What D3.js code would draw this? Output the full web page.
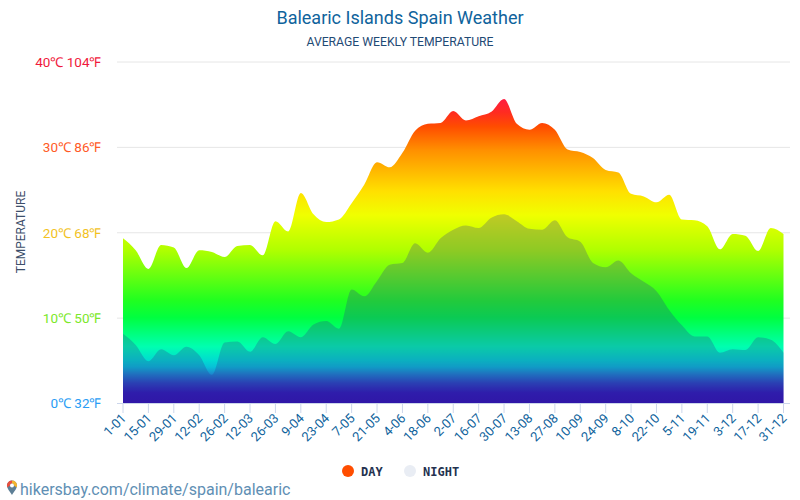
<!DOCTYPE html>
<html>
<head>
<meta charset="utf-8">
<script src="https://cdn.jsdelivr.net/npm/d3@7"></script>
<style>
  html, body { margin: 0; padding: 0; background: #fff; }
  svg { display: block; font-family: Roboto, sans-serif; }
</style>
</head>
<body>
<svg id="chart" width="800" height="500"></svg>
<script>
// average weekly temperature, degrees C, one value per week
const weeks = ["1-01","8-01","15-01","22-01","29-01","5-02","12-02","19-02","26-02","5-03","12-03","19-03","26-03","2-04","9-04","16-04","23-04","30-04","7-05","14-05","21-05","28-05","4-06","11-06","18-06","25-06","2-07","9-07","16-07","23-07","30-07","6-08","13-08","20-08","27-08","3-09","10-09","17-09","24-09","1-10","8-10","15-10","22-10","29-10","5-11","12-11","19-11","26-11","3-12","10-12","17-12","24-12","31-12"];
const dayTemps = [19.3,17.9,15.7,18.5,18.2,15.8,17.9,17.7,17.1,18.4,18.5,17.3,21.3,20.1,24.6,22.1,21.2,21.5,23.4,25.6,28.2,27.6,29.3,31.9,32.7,32.8,34.2,33.1,33.6,34.1,35.6,32.7,32.0,32.8,32.0,29.7,29.4,28.7,27.3,27.0,24.5,24.2,23.5,24.4,21.5,21.4,20.7,18.0,19.8,19.6,17.8,20.5,19.8];
const nightTemps = [8.1,6.8,4.9,6.3,5.6,6.6,5.6,3.3,7.1,7.2,6.0,7.7,6.9,8.4,7.7,9.2,9.6,8.7,13.3,12.5,14.3,16.2,16.4,18.7,17.6,19.3,20.3,20.8,20.5,21.7,22.1,21.3,20.4,20.3,21.4,19.4,18.9,16.4,15.9,16.7,15.2,14.2,13.1,10.9,9.1,7.8,7.8,5.9,6.3,6.2,7.7,7.4,5.9];
const yTicks = [0, 10, 20, 30, 40];
const yTickColors = ["#2a9df4", "#7ce82a", "#f2c21f", "#ff5a26", "#f0193c"];
const gradientStops = [
  [0, "#3210b0"], [0.03, "#3018b4"], [0.059, "#2a48c0"], [0.088, "#1a90d0"], [0.105, "#08c0d8"],
  [0.125, "#00dcd0"], [0.165, "#00ffb0"], [0.25, "#00ff40"], [0.3, "#20ff20"], [0.448, "#b0ff00"],
  [0.55, "#f0ff00"], [0.62, "#ffe000"], [0.74, "#ff9000"], [0.81, "#ff4c00"], [0.85, "#ff2c20"], [0.89, "#ff1c40"], [1, "#ff0050"]
];

const svg = d3.select("#chart");
const x = d3.scalePoint().domain(weeks).range([123, 783.5]);
const y = d3.scaleLinear().domain([0, 40]).range([403, 61.5]);

const defs = svg.append("defs");
const grad = defs.append("linearGradient").attr("id", "temp-grad")
  .attr("gradientUnits", "userSpaceOnUse")
  .attr("x1", 0).attr("x2", 0).attr("y1", y(0)).attr("y2", y(40));
grad.selectAll("stop").data(gradientStops).enter().append("stop")
  .attr("offset", d => d[0]).attr("stop-color", d => d[1]);

// titles
svg.append("text").attr("x", 400).attr("y", 23.5).attr("text-anchor", "middle")
  .attr("font-size", 18).attr("fill", "#0f639c").text("Balearic Islands Spain Weather");
svg.append("text").attr("x", 400).attr("y", 46).attr("text-anchor", "middle")
  .attr("font-size", 12.2).attr("fill", "#1f4a75").text("AVERAGE WEEKLY TEMPERATURE");

// grid + y labels
svg.append("g").selectAll("line").data(yTicks).enter().append("line")
  .attr("x1", 117).attr("x2", 790)
  .attr("y1", d => y(d) + 0.5).attr("y2", d => y(d) + 0.5)
  .attr("stroke", "#e6e6e6");
svg.append("g").selectAll("text").data(yTicks).enter().append("text")
  .attr("x", 101.5).attr("y", d => y(d) + 5.3).attr("text-anchor", "end")
  .attr("font-size", 13.5).attr("fill", (d, i) => yTickColors[i])
  .text(d => `${d}℃ ${Math.round(d * 1.8 + 32)}℉`);
svg.append("text").attr("transform", "translate(25,232) rotate(-90)")
  .attr("text-anchor", "middle").attr("font-size", 12).attr("fill", "#3d4f6b").text("TEMPERATURE");

// areas
const area = vals => d3.area()
  .x((d, i) => x(weeks[i])).y0(y(0)).y1(d => y(d))
  .curve(d3.curveMonotoneX)(vals);
svg.append("path").attr("d", area(dayTemps)).attr("fill", "url(#temp-grad)");
svg.append("path").attr("d", area(nightTemps)).attr("fill", "#2c2c90").attr("fill-opacity", 0.25);

// x axis, every second week is labelled
const labelled = weeks.filter((d, i) => i % 2 === 0);
svg.append("line").attr("x1", 117).attr("x2", 790).attr("y1", 403.5).attr("y2", 403.5).attr("stroke", "#ccd6eb");
svg.append("g").selectAll("line").data(labelled).enter().append("line")
  .attr("x1", d => x(d)).attr("x2", d => x(d)).attr("y1", 403).attr("y2", 413)
  .attr("stroke", "#ccd6eb");
svg.append("g").selectAll("text").data(labelled).enter().append("text")
  .attr("transform", d => `translate(${x(d) + 4},${419}) rotate(-45)`)
  .attr("text-anchor", "end").attr("font-size", 13).attr("fill", "#0f639c").text(d => d);

// legend
svg.append("circle").attr("cx", 348).attr("cy", 471).attr("r", 6).attr("fill", "#ff4d00");
svg.append("text").attr("x", 361).attr("y", 476).attr("font-family", "'DejaVu Sans Mono', monospace")
  .attr("font-weight", "bold").attr("font-size", 12).attr("fill", "#24324f").text("DAY");
svg.append("circle").attr("cx", 410).attr("cy", 471).attr("r", 6).attr("fill", "#e9edf4");
svg.append("text").attr("x", 423).attr("y", 476).attr("font-family", "'DejaVu Sans Mono', monospace")
  .attr("font-weight", "bold").attr("font-size", 12).attr("fill", "#24324f").text("NIGHT");

// footer pin logo
svg.append("path").attr("d", "M12 495 C9.5 491 7 488.5 7 485.5 A5 5 0 0 1 17 485.5 C17 488.5 14.5 491 12 495 Z")
  .attr("fill", "#5d7f96");
svg.append("path").attr("d", "M7.3 487.5 A5 5 0 0 1 12 480.5 L12 483.5 A2 2 0 0 0 10 485.5 Z").attr("fill", "#ea4f3d");
svg.append("path").attr("d", "M12 480.5 A5 5 0 0 1 16.7 487.5 L14 485.5 A2 2 0 0 0 12 483.5 Z").attr("fill", "#f4b52e");
svg.append("circle").attr("cx", 12).attr("cy", 485.5).attr("r", 2).attr("fill", "#fff");
svg.append("text").attr("x", 20).attr("y", 495).attr("font-size", 16).attr("fill", "#5f8fb4")
  .text("hikersbay.com/climate/spain/balearic");
</script>
</body>
</html>
